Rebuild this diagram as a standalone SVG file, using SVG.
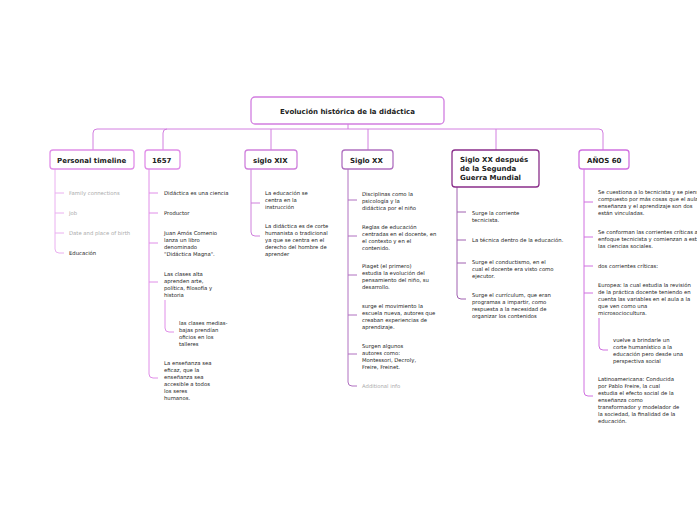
<svg xmlns="http://www.w3.org/2000/svg" width="697" height="520" viewBox="0 0 697 520">
<style>
.n{fill:#fff;stroke-width:1.3}
.h{font-family:Verdana,"DejaVu Sans",sans-serif;font-weight:bold;font-size:7px;fill:#222}
.t{font-family:Verdana,"DejaVu Sans",sans-serif;font-size:5.3px;fill:#222}
.g{fill:#aaa}
.c{fill:none;stroke-width:1}
</style>
<rect width="697" height="520" fill="#fff"/>
<g id="connectors">
<path class="c" stroke="#d27ee0" d="M348 124V129M93 150V133Q93 129 97 129H599Q603 129 603 133V150M163 150V133Q163 129 167 129M271 150V129M368 150V129M496 150V129"/>
<path class="c" stroke="#eab0f0" d="M55 169V249Q55 253 59 253H64M55 193H64M55 213H64M55 233H64"/>
<path class="c" stroke="#e08ee8" d="M149 169V374Q149 378 153 378H158M149 193H158M149 213H158M149 243H158M149 282H158M165 300V328Q165 332 169 332H174"/>
<path class="c" stroke="#cf80dc" d="M251 169V232Q251 236 255 236H260M251 203H260"/>
<path class="c" stroke="#b070c0" d="M348 169V382Q348 386 352 386H357M348 200H357M348 236H357M348 275H357M348 315H357M348 354H357"/>
<path class="c" stroke="#a060b0" d="M457 187V295Q457 299 461 299H466M457 212H466M457 240H466M457 263H466"/>
<path class="c" stroke="#d070e0" d="M584 169V392Q584 396 588 396H593M584 202H593M584 237H593M584 266H593M584 293H593M599 318V346Q599 350 603 350H608"/>
</g>
<g id="root"><rect class="n" x="251" y="97" width="193" height="27" rx="4" stroke="#d27ee0" stroke-width="2"/><text class="h" x="347.5" y="113.5" text-anchor="middle" font-size="8">Evolución histórica de la didáctica</text></g>
<g id="personal"><rect class="n" x="50" y="150" width="84" height="19" rx="3" stroke="#e08ee8"/><text class="h" x="57" y="162.5">Personal timeline</text>
<text class="t g" x="69" y="195">Family connections</text><text class="t g" x="69" y="215">Job</text><text class="t g" x="69" y="235">Date and place of birth</text><text class="t" x="69" y="255">Educación</text></g>
<g id="n1657"><rect class="n" x="145" y="150" width="35" height="19" rx="3" stroke="#e08ee8"/><text class="h" x="152" y="162.5">1657</text>
<text class="t" x="164" y="195">Didáctica es una ciencia</text><text class="t" x="164" y="215">Productor</text>
<text class="t" x="164" y="235">Juan Amós Comenio<tspan x="164" dy="7">lanza un libro</tspan><tspan x="164" dy="7">denominado</tspan><tspan x="164" dy="7">"Didáctica Magna".</tspan></text>
<text class="t" x="164" y="276">Las clases alta<tspan x="164" dy="7">aprenden arte,</tspan><tspan x="164" dy="7">política, filosofía y</tspan><tspan x="164" dy="7">historia</tspan></text>
<text class="t" x="179" y="325">las clases medias-<tspan x="179" dy="7">bajas prendían</tspan><tspan x="179" dy="7">oficios en los</tspan><tspan x="179" dy="7">talleres</tspan></text>
<text class="t" x="164" y="365">La enseñanza sea<tspan x="164" dy="7">eficaz, que la</tspan><tspan x="164" dy="7">enseñanza sea</tspan><tspan x="164" dy="7">accesible a todos</tspan><tspan x="164" dy="7">los seres</tspan><tspan x="164" dy="7">humanos.</tspan></text></g>
<g id="xix"><rect class="n" x="245" y="150" width="52" height="19" rx="3" stroke="#cf80dc"/><text class="h" x="253" y="162.5">siglo XIX</text>
<text class="t" x="265" y="195">La educación se<tspan x="265" dy="7">centra en la</tspan><tspan x="265" dy="7">instrucción</tspan></text>
<text class="t" x="265" y="228">La didáctica es de corte<tspan x="265" dy="7">humanista o tradicional</tspan><tspan x="265" dy="7">ya que se centra en el</tspan><tspan x="265" dy="7">derecho del hombre de</tspan><tspan x="265" dy="7">aprender</tspan></text></g>
<g id="xx"><rect class="n" x="342" y="150" width="51" height="19" rx="3" stroke="#b070c0"/><text class="h" x="350" y="162.5">Siglo XX</text>
<text class="t" x="362" y="196">Disciplinas como la<tspan x="362" dy="7">psicología y la</tspan><tspan x="362" dy="7">didáctica por el niño</tspan></text>
<text class="t" x="362" y="229">Reglas de educación<tspan x="362" dy="7">centradas en el docente, en</tspan><tspan x="362" dy="7">el contexto y en el</tspan><tspan x="362" dy="7">contenido.</tspan></text>
<text class="t" x="362" y="268">Piaget (el primero)<tspan x="362" dy="7">estudia la evolución del</tspan><tspan x="362" dy="7">pensamiento del niño, su</tspan><tspan x="362" dy="7">desarrollo.</tspan></text>
<text class="t" x="362" y="308">surge el movimiento la<tspan x="362" dy="7">escuela nueva, autores que</tspan><tspan x="362" dy="7">creaban experiencias de</tspan><tspan x="362" dy="7">aprendizaje.</tspan></text>
<text class="t" x="362" y="348">Surgen algunos<tspan x="362" dy="7">autores como:</tspan><tspan x="362" dy="7">Montessori, Decroly,</tspan><tspan x="362" dy="7">Freire, Freinet.</tspan></text>
<text class="t g" x="362" y="388">Additional info</text></g>
<g id="xxpost"><rect class="n" x="452" y="150" width="87" height="37" rx="3" stroke="#8a2e8a"/><text class="h" x="460" y="162">Siglo XX después<tspan x="460" dy="9">de la Segunda</tspan><tspan x="460" dy="9">Guerra Mundial</tspan></text>
<text class="t" x="472" y="215">Surge la corriente<tspan x="472" dy="7">tecnicista.</tspan></text>
<text class="t" x="472" y="242">La técnica dentro de la educación.</text>
<text class="t" x="472" y="264">Surge el conductismo, en el<tspan x="472" dy="7">cual el docente era visto como</tspan><tspan x="472" dy="7">ejecutor.</tspan></text>
<text class="t" x="472" y="297">Surge el currículum, que eran<tspan x="472" dy="7">programas a impartir, como</tspan><tspan x="472" dy="7">respuesta a la necesidad de</tspan><tspan x="472" dy="7">organizar los contenidos</tspan></text></g>
<g id="anos60"><rect class="n" x="579" y="150" width="50" height="19" rx="3" stroke="#d070e0"/><text class="h" x="587" y="162.5">AÑOS 60</text>
<text class="t" x="598" y="194">Se cuestiona a lo tecnicista y se piensa<tspan x="598" dy="7">compuesto por más cosas que el aula,</tspan><tspan x="598" dy="7">enseñanza y el aprendizaje son dos</tspan><tspan x="598" dy="7">están vinculadas.</tspan></text>
<text class="t" x="598" y="234">Se conforman las corrientes críticas al<tspan x="598" dy="7">enfoque tecnicista y comienzan a estar</tspan><tspan x="598" dy="7">las ciencias sociales.</tspan></text>
<text class="t" x="598" y="268">dos corrientes críticas:</text>
<text class="t" x="598" y="287">Europea: la cual estudia la revisión<tspan x="598" dy="7">de la práctica docente teniendo en</tspan><tspan x="598" dy="7">cuenta las variables en el aula a la</tspan><tspan x="598" dy="7">que ven como una</tspan><tspan x="598" dy="7">microsociocultura.</tspan></text>
<text class="t" x="613" y="342">vuelve a brindarle un<tspan x="613" dy="7">corte humanístico a la</tspan><tspan x="613" dy="7">educación pero desde una</tspan><tspan x="613" dy="7">perspectiva social</tspan></text>
<text class="t" x="598" y="381">Latinoamericana: Conducida<tspan x="598" dy="7">por Pablo Freire, la cual</tspan><tspan x="598" dy="7">estudia el efecto social de la</tspan><tspan x="598" dy="7">enseñanza como</tspan><tspan x="598" dy="7">transformador y modelador de</tspan><tspan x="598" dy="7">la sociedad, la finalidad de la</tspan><tspan x="598" dy="7">educación.</tspan></text></g>
</svg>
